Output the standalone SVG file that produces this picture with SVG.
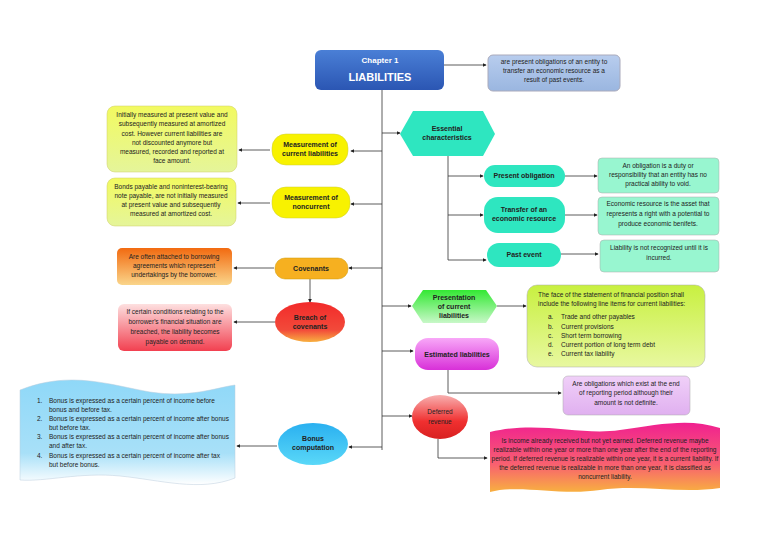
<svg xmlns="http://www.w3.org/2000/svg" width="768" height="543" viewBox="0 0 768 543">
<defs>
<marker id="a" viewBox="0 0 6 6" refX="5" refY="3" markerWidth="5" markerHeight="5" orient="auto"><path d="M0,0L6,3L0,6z" fill="#222"/></marker>
<linearGradient id="gBlue" x1="0" y1="0" x2="0" y2="1"><stop offset="0" stop-color="#4a7fd6"/><stop offset="1" stop-color="#2b56b3"/></linearGradient>
<linearGradient id="gLB" x1="0" y1="0" x2="0" y2="1"><stop offset="0" stop-color="#b8cdee"/><stop offset="1" stop-color="#9ab6e0"/></linearGradient>
<linearGradient id="gY" x1="0" y1="0" x2="0" y2="1"><stop offset="0" stop-color="#f2fa60"/><stop offset="1" stop-color="#e5f59a"/></linearGradient>
<linearGradient id="gO" x1="0" y1="0" x2="0" y2="1"><stop offset="0" stop-color="#f26a10"/><stop offset="1" stop-color="#fad58a"/></linearGradient>
<linearGradient id="gR" x1="0" y1="0" x2="0" y2="1"><stop offset="0" stop-color="#fde0e0"/><stop offset="1" stop-color="#f24050"/></linearGradient>
<linearGradient id="gRE" x1="0" y1="0" x2="0" y2="1"><stop offset="0" stop-color="#f22a2a"/><stop offset="0.7" stop-color="#f24a3a"/><stop offset="1" stop-color="#f8b040"/></linearGradient>
<linearGradient id="gC" x1="0" y1="0" x2="0" y2="1"><stop offset="0" stop-color="#8fd8f8"/><stop offset="0.7" stop-color="#a8e0f8"/><stop offset="1" stop-color="#ffffff"/></linearGradient>
<linearGradient id="gCE" x1="0" y1="0" x2="0" y2="1"><stop offset="0" stop-color="#2ab0f0"/><stop offset="1" stop-color="#5ad8f8"/></linearGradient>
<linearGradient id="gG" x1="0" y1="0" x2="0" y2="1"><stop offset="0" stop-color="#33e833"/><stop offset="1" stop-color="#c8f8c8"/></linearGradient>
<linearGradient id="gLG" x1="0" y1="0" x2="0" y2="1"><stop offset="0" stop-color="#c8f040"/><stop offset="1" stop-color="#e8f8a0"/></linearGradient>
<linearGradient id="gM" x1="0" y1="0" x2="0" y2="1"><stop offset="0" stop-color="#f8a8f8"/><stop offset="1" stop-color="#d830d8"/></linearGradient>
<linearGradient id="gP" x1="0" y1="0" x2="0" y2="1"><stop offset="0" stop-color="#f0d0f8"/><stop offset="1" stop-color="#e0b0f0"/></linearGradient>
<linearGradient id="gDR" x1="0" y1="0" x2="0" y2="1"><stop offset="0" stop-color="#f8b0b0"/><stop offset="0.6" stop-color="#f03030"/><stop offset="1" stop-color="#d82020"/></linearGradient>
<linearGradient id="gPK" x1="0" y1="0" x2="0" y2="1"><stop offset="0" stop-color="#f02090"/><stop offset="0.6" stop-color="#f86070"/><stop offset="1" stop-color="#f8b040"/></linearGradient>
</defs>
<style>
text{font-family:"Liberation Sans",Arial,sans-serif;text-anchor:middle;fill:#222}
.s{font-size:6.5px}
.b{font-size:7px;font-weight:bold}
.l{text-anchor:start}
.c{stroke:#333;stroke-width:0.8;fill:none}
.ca{stroke:#333;stroke-width:0.8;fill:none;marker-end:url(#a)}
.sh{stroke:#aaa;stroke-width:0.6}
</style>
<rect width="768" height="543" fill="#fff"/>
<g id="connectors">
<path class="c" d="M382,90V450"/>
<path class="ca" d="M444,65H486"/>
<path class="ca" d="M382,133H400"/>
<path class="ca" d="M382,151H351"/>
<path class="ca" d="M270,150H239"/>
<path class="ca" d="M382,204H351"/>
<path class="ca" d="M270,203H238"/>
<path class="ca" d="M382,268H349"/>
<path class="ca" d="M274,268H234"/>
<path class="ca" d="M310,279V302"/>
<path class="ca" d="M275,322H234"/>
<path class="ca" d="M382,447H349"/>
<path class="ca" d="M277,446H237"/>
<path class="c" d="M448,156V260"/>
<path class="ca" d="M448,176H483"/>
<path class="ca" d="M448,215H483"/>
<path class="ca" d="M448,260H486"/>
<path class="ca" d="M565,176H597"/>
<path class="ca" d="M565,215H597"/>
<path class="ca" d="M561,254H598"/>
<path class="ca" d="M382,306H411"/>
<path class="ca" d="M497,306H526"/>
<path class="ca" d="M382,351H413"/>
<path class="ca" d="M448,370V393H561"/>
<path class="ca" d="M382,416H412"/>
<path class="ca" d="M438,439V458H487"/>
</g>
<g id="chapter">
<rect x="315" y="50" width="129" height="40" rx="6" fill="url(#gBlue)"/>
<text x="380" y="63" style="font-size:8px;font-weight:bold;fill:#fff">Chapter 1</text>
<text x="380" y="81" style="font-size:11px;font-weight:bold;fill:#fff">LIABILITIES</text>
</g>
<g id="definition">
<rect x="488" y="55" width="132" height="36" rx="5" fill="url(#gLB)" stroke="#aab"/>
<text class="s" x="554" y="64">are present obligations of an entity to</text>
<text class="s" x="554" y="73">transfer an economic  resource as a</text>
<text class="s" x="554" y="82">result of past events.</text>
</g>
<g id="essential">
<polygon points="400,134 413,111 483,111 495,134 483,156 413,156" fill="#2ee6c0"/>
<text class="b" x="447" y="131">Essential</text>
<text class="b" x="447" y="140">characteristics</text>
</g>
<g id="present">
<rect x="484" y="165" width="81" height="22" rx="11" fill="#2ee6c0"/>
<text class="b" x="524" y="178">Present obligation</text>
<rect x="598" y="158" width="121" height="35" rx="4" fill="#98f6d0" stroke="#aaa" stroke-width="0.5"/>
<text class="s" x="658" y="168">An obligation is a duty or</text>
<text class="s" x="658" y="177">responsibility that an entity has no</text>
<text class="s" x="658" y="186">practical ability to void.</text>
</g>
<g id="transfer">
<rect x="484" y="197" width="81" height="36" rx="14" fill="#2ee6c0"/>
<text class="b" x="524" y="212">Transfer of an</text>
<text class="b" x="524" y="221">economic resource</text>
<rect x="598" y="197" width="121" height="38" rx="4" fill="#98f6d0" stroke="#aaa" stroke-width="0.5"/>
<text class="s" x="658" y="206">Economic resource is the asset that</text>
<text class="s" x="658" y="216">represents a right with a potential to</text>
<text class="s" x="658" y="226">produce economic benifets.</text>
</g>
<g id="past">
<rect x="487" y="243" width="74" height="24" rx="12" fill="#2ee6c0"/>
<text class="b" x="524" y="257">Past event</text>
<rect x="600" y="240" width="119" height="32" rx="4" fill="#98f6d0" stroke="#aaa" stroke-width="0.5"/>
<text class="s" x="659" y="250">Liability is not recognized until it is</text>
<text class="s" x="659" y="260">incurred.</text>
</g>
<g id="meascurrent">
<rect x="272" y="134" width="76" height="31" rx="14" fill="#f8f200" stroke="#cc3" stroke-width="0.5"/>
<text class="b" x="310" y="147">Measurement of</text>
<text class="b" x="310" y="156">current liabilities</text>
<rect x="107" y="106" width="130" height="66" rx="8" fill="url(#gY)" stroke="#cc6" stroke-width="0.5"/>
<text class="s" x="172" y="117">Initially measured at present value and</text>
<text class="s" x="172" y="126">subsequently measured at amortized</text>
<text class="s" x="172" y="136">cost. However current liabilities are</text>
<text class="s" x="172" y="145">not discounted anymore but</text>
<text class="s" x="172" y="154">measured, recorded and reported at</text>
<text class="s" x="172" y="163">face amount.</text>
</g>
<g id="measnoncurrent">
<rect x="272" y="187" width="78" height="31" rx="14" fill="#f8f200" stroke="#cc3" stroke-width="0.5"/>
<text class="b" x="311" y="200">Measurement of</text>
<text class="b" x="311" y="209">noncurrent</text>
<rect x="107" y="178" width="129" height="48" rx="8" fill="url(#gY)" stroke="#cc6" stroke-width="0.5"/>
<text class="s" x="171" y="189">Bonds payable and noninterest-bearing</text>
<text class="s" x="171" y="198">note payable, are not initially measured</text>
<text class="s" x="171" y="207">at present value and subsequently</text>
<text class="s" x="171" y="216">measured at amortized cost.</text>
</g>
<g id="covenants">
<rect x="275" y="258" width="73" height="21" rx="10" fill="#f6b020" stroke="#c90" stroke-width="0.5"/>
<text class="b" x="311" y="271">Covenants</text>
<rect x="117" y="248" width="115" height="37" rx="5" fill="url(#gO)"/>
<text class="s" x="174" y="259">Are often attached to borrowing</text>
<text class="s" x="174" y="268">agreements which represent</text>
<text class="s" x="174" y="277">undertakings by the borrower.</text>
</g>
<g id="breach">
<ellipse cx="310" cy="322" rx="35" ry="20" fill="url(#gRE)"/>
<text class="b" x="310" y="320">Breach of</text>
<text class="b" x="310" y="329">covenants</text>
<rect x="118" y="304" width="114" height="47" rx="6" fill="url(#gR)"/>
<text class="s" x="175" y="314">If certain conditions relating to the</text>
<text class="s" x="175" y="324">borrower's financial situation are</text>
<text class="s" x="175" y="334">breached, the liability becomes</text>
<text class="s" x="175" y="344">payable on demand.</text>
</g>
<g id="bonus">
<ellipse cx="313" cy="444" rx="35" ry="21" fill="url(#gCE)"/>
<text class="b" x="313" y="441">Bonus</text>
<text class="b" x="313" y="450">computation</text>
<path d="M20,390 C70,370 110,385 150,392 C190,398 215,388 235,385 V478 C200,492 160,480 120,476 C80,472 45,482 20,480 Z" fill="url(#gC)" stroke="#bcd" stroke-width="0.5"/>
<text class="s l" x="37" y="403">1.</text><text class="s l" x="49" y="403">Bonus is expressed as a certain percent of income before</text>
<text class="s l" x="49" y="412">bonus and before tax.</text>
<text class="s l" x="37" y="421">2.</text><text class="s l" x="49" y="421">Bonus is expressed as a certain percent  of income after bonus</text>
<text class="s l" x="49" y="430">but before tax.</text>
<text class="s l" x="37" y="439">3.</text><text class="s l" x="49" y="439">Bonus is expressed as a certain percent of income after bonus</text>
<text class="s l" x="49" y="448">and after tax.</text>
<text class="s l" x="37" y="458">4.</text><text class="s l" x="49" y="458">Bonus is expressed as a certain percent of income after tax</text>
<text class="s l" x="49" y="467">but before bonus.</text>
</g>
<g id="presentation">
<polygon points="412,306 423,290 486,290 497,306 486,323 423,323" fill="url(#gG)"/>
<text class="b" x="454" y="300">Presentation</text>
<text class="b" x="454" y="309">of current</text>
<text class="b" x="454" y="318">liabilities</text>
<rect x="527" y="285" width="178" height="82" rx="10" fill="url(#gLG)" stroke="#aaa" stroke-width="0.5"/>
<text class="s l" x="538" y="297">The face of the statement of financial position shall</text>
<text class="s l" x="538" y="306">include the following line items for current liabilities:</text>
<text class="s l" x="548" y="319">a.</text><text class="s l" x="561" y="319">Trade and other payables</text>
<text class="s l" x="548" y="329">b.</text><text class="s l" x="561" y="329">Current provisions</text>
<text class="s l" x="548" y="338">c.</text><text class="s l" x="561" y="338">Short term borrowing</text>
<text class="s l" x="548" y="347">d.</text><text class="s l" x="561" y="347">Current portion of long term debt</text>
<text class="s l" x="548" y="356">e.</text><text class="s l" x="561" y="356">Current tax liability</text>
</g>
<g id="estimated">
<rect x="415" y="338" width="84" height="32" rx="13" fill="url(#gM)"/>
<text class="b" x="457" y="357">Estimated liabilities</text>
<rect x="563" y="376" width="127" height="39" rx="5" fill="url(#gP)" stroke="#aaa" stroke-width="0.5"/>
<text class="s" x="626" y="386">Are obligations which exist at the end</text>
<text class="s" x="626" y="395">of reporting period although their</text>
<text class="s" x="626" y="405">amount is not definite.</text>
</g>
<g id="deferred">
<ellipse cx="440" cy="417" rx="28" ry="22" fill="url(#gDR)"/>
<text class="s" x="440" y="414">Deferred</text>
<text class="s" x="440" y="424">revenue</text>
<path d="M490,432 C540,420 580,436 620,430 C660,424 690,418 720,428 V488 C680,494 640,484 600,490 C560,496 520,484 490,492 Z" fill="url(#gPK)"/>
<text class="s" x="605" y="443">Is income already received but not yet earned. Deferred revenue  maybe</text>
<text class="s" x="605" y="452">realizable within one year or more than one year after the end of the reporting</text>
<text class="s" x="605" y="461">period. If deferred revenue is realizable within one year, it is a current liability. If</text>
<text class="s" x="605" y="470">the deferred revenue is realizable in more than one year, it is classified as</text>
<text class="s" x="605" y="479">noncurrent liability.</text>
</g>
</svg>
